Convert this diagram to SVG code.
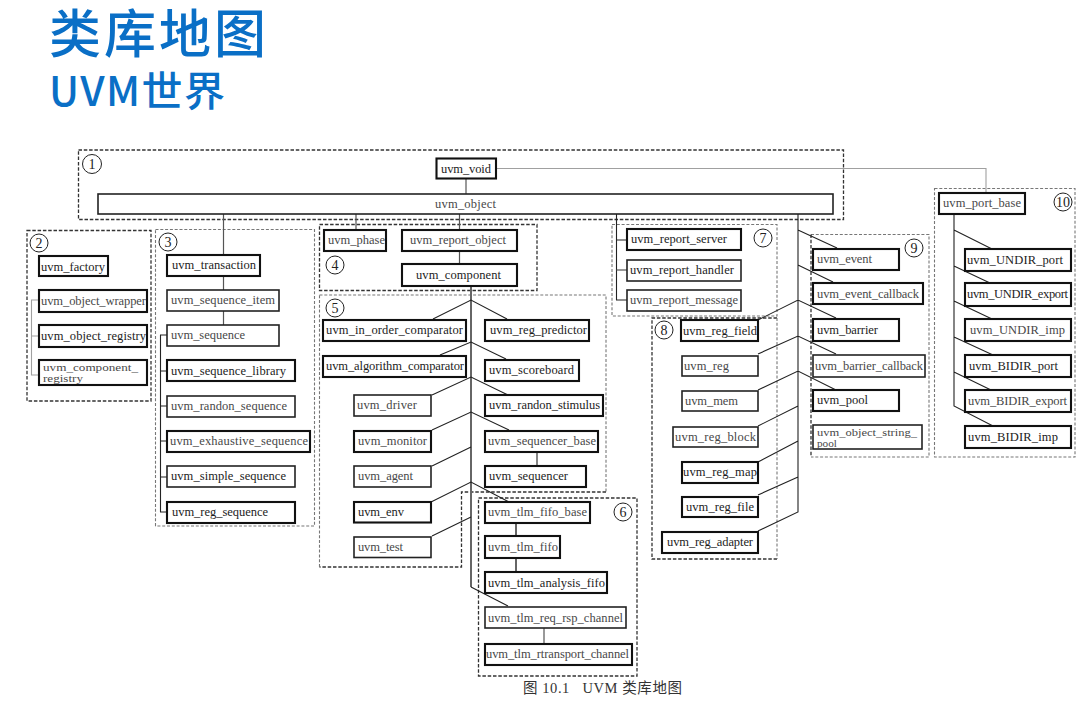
<svg xmlns="http://www.w3.org/2000/svg" width="1081" height="704" viewBox="0 0 1081 704">
<style>
.bg{fill:#fff}
.t1{font-family:"Noto Sans CJK SC","Noto Sans",sans-serif;font-weight:500;font-size:52px;fill:#0a6fc6}
.t2{font-family:"Noto Sans CJK SC","Noto Sans",sans-serif;font-weight:500;font-size:41px;fill:#0a6fc6}
.cap{font-family:"Liberation Serif","Noto Sans CJK SC",serif;font-size:14.5px;fill:#333}
.rd{fill:none;stroke:#333;stroke-width:1.3;stroke-dasharray:3.5 1.8}
.rg{fill:none;stroke:#777;stroke-width:1.1;stroke-dasharray:3 1.8}
.b{fill:#fff;stroke:#222;stroke-width:1.6}
.h{fill:#fff;stroke:#111;stroke-width:2.1}
text.n{font-family:"Liberation Serif",serif;font-size:12.5px;fill:#1c1c1c}
text.l{font-family:"Liberation Serif",serif;font-size:12.5px;fill:#484848}
text.s{font-size:10.5px}
.cn{font-family:"Liberation Serif",serif;font-size:14px;fill:#222;text-anchor:middle}
.cc{fill:#fff;stroke:#222;stroke-width:1}
.c{fill:none;stroke:#222;stroke-width:1.1}
.cg{fill:none;stroke:#555;stroke-width:1.2}
.cl{fill:none;stroke:#a0a0a0;stroke-width:1.1}
.ct{fill:none;stroke:#666;stroke-width:2}
</style>
<rect class="bg" width="1081" height="704"/>
<text class="t1" x="49" y="53" textLength="217">类库地图</text>
<text class="t2" x="49" y="106" textLength="176">UVM世界</text>
<text class="cap" x="523" y="693" textLength="159">图 10.1&#160;&#160;&#160;UVM 类库地图</text>

<g id="regions">
<rect class="rd" x="78.5" y="150" width="765" height="69.5"/>
<rect class="rd" x="27" y="230.500" width="124" height="170.500"/>
<rect class="rg" x="155.500" y="229.500" width="159" height="296.500"/>
<rect class="rd" x="319.500" y="224.500" width="217.500" height="66"/>
<path class="rg" d="M319.500 295H606V492"/>
<path class="rd" d="M606 492H461.500V567H319.500"/>
<path class="rg" d="M319.500 567V295"/>
<rect class="rd" x="478.500" y="498" width="158.500" height="178"/>
<rect class="rg" x="612" y="224.500" width="165" height="91.500"/>
<path class="rd" d="M777 318H652V559H777"/>
<path class="rg" d="M777 318V559"/>
<path class="rg" d="M811 234.500H929V457H811"/>
<path class="rd" d="M811 234.500V457"/>
<rect class="rg" x="934.500" y="188.500" width="140.500" height="268.500"/>
</g>

<g id="connectors">
<path class="cl" d="M496 168.500H986V193"/>
<path class="cg" d="M466 179V194"/>
<path class="cg" d="M223.500 214V325"/>
<path class="cl" d="M39 300H31.500V375H39M31.500 336H39"/>
<path class="c" d="M167 335H160.500V512H167M160.500 371H167M160.500 406H167M160.500 441H167M160.500 477H167"/>
<path class="cg" d="M356 214V230M459.500 214V264"/>
<path class="ct" d="M471 286V587"/>
<path class="c" d="M433 319L471 300L507 319M440 355L471 342L506 359M432 395L471 377L508 395M432 430L471 412L509 430M432 466L471 447M431 502L471 482L509 502M432 536L471 517M471 587L508 606"/>
<path class="c" d="M537 452V466"/>
<path class="ct" d="M516 523V572"/>
<path class="cg" d="M544 628V644"/>
<path class="c" d="M616.500 214V300H627M616.500 240H627"/>
<path class="cg" d="M616.500 270H627"/>
<path class="c" d="M798 214V512L758 531M758 320L798 300L836 318M758 354L798 336L836 354M758 390L798 371L836 390M758 426L798 406M758 462L798 441M758 495L798 477M798 230L837 248M798 265L833 282"/>
<path class="c" d="M954 214V406L993 426M954 230L992 249M954 266L990 283M954 301L992 319M954 337L993 355M954 372L991 390"/>
</g>

<g id="region-labels">
<g id="label-1"><circle class="cc" cx="92" cy="164" r="9.500"/><text class="cn" x="92" y="169">1</text></g>
<g id="label-2"><circle class="cc" cx="39" cy="243" r="9"/><text class="cn" x="39" y="248">2</text></g>
<g id="label-3"><circle class="cc" cx="168" cy="242" r="9"/><text class="cn" x="168" y="247">3</text></g>
<g id="label-4"><circle class="cc" cx="335" cy="265" r="9"/><text class="cn" x="335" y="270">4</text></g>
<g id="label-5"><circle class="cc" cx="335" cy="308" r="9"/><text class="cn" x="335" y="313">5</text></g>
<g id="label-6"><circle class="cc" cx="623" cy="512" r="9"/><text class="cn" x="623" y="517">6</text></g>
<g id="label-7"><circle class="cc" cx="763" cy="238" r="9"/><text class="cn" x="763" y="243">7</text></g>
<g id="label-8"><circle class="cc" cx="664" cy="330" r="9"/><text class="cn" x="664" y="335">8</text></g>
<g id="label-9"><circle class="cc" cx="914" cy="248" r="9"/><text class="cn" x="914" y="253">9</text></g>
<g id="label-10"><circle class="cc" cx="1063" cy="202" r="9"/><text class="cn" x="1063" y="207">10</text></g>
</g>

<g id="uvm_void"><rect class="h" x="436.500" y="158.500" width="59.500" height="20"/><text class="n" x="441" y="173" textLength="50">uvm_void</text></g>
<g id="uvm_object"><rect class="b" x="98" y="194" width="735" height="20"/><text class="l" x="435" y="208" textLength="61">uvm_object</text></g>

<g id="uvm_factory"><rect class="h" x="39" y="256" width="69" height="20"/><text class="n" x="41" y="270.500" textLength="64">uvm_factory</text></g>
<g id="uvm_object_wrapper"><rect class="h" x="39" y="290" width="108" height="22"/><text class="l" x="41" y="304.500" textLength="105">uvm_object_wrapper</text></g>
<g id="uvm_object_registry"><rect class="h" x="39" y="325" width="108" height="22"/><text class="n" x="41" y="339.500" textLength="105">uvm_object_registry</text></g>
<g id="uvm_component_registry"><rect class="h" x="39" y="360" width="108" height="25"/><text class="l s" x="43" y="370.500" textLength="95" lengthAdjust="spacingAndGlyphs">uvm_component_</text><text class="l s" x="43" y="381.500" textLength="40" lengthAdjust="spacingAndGlyphs">registry</text></g>

<g id="uvm_transaction"><rect class="h" x="167" y="255" width="93" height="21"/><text class="n" x="172" y="269" textLength="84">uvm_transaction</text></g>
<g id="uvm_sequence_item"><rect class="b" x="167" y="290" width="112" height="21"/><text class="l" x="171" y="304" textLength="104">uvm_sequence_item</text></g>
<g id="uvm_sequence"><rect class="b" x="167" y="325" width="112" height="21"/><text class="l" x="171" y="339" textLength="74">uvm_sequence</text></g>
<g id="uvm_sequence_library"><rect class="h" x="167" y="360" width="128" height="21"/><text class="n" x="171" y="375" textLength="115">uvm_sequence_library</text></g>
<g id="uvm_randon_sequence"><rect class="b" x="167" y="396" width="128" height="21"/><text class="l" x="171" y="410" textLength="116">uvm_randon_sequence</text></g>
<g id="uvm_exhaustive_sequence"><rect class="h" x="167" y="431" width="143" height="21"/><text class="l" x="170" y="445" textLength="138">uvm_exhaustive_sequence</text></g>
<g id="uvm_simple_sequence"><rect class="b" x="167" y="466" width="128" height="21"/><text class="n" x="171" y="480" textLength="115">uvm_simple_sequence</text></g>
<g id="uvm_reg_sequence"><rect class="h" x="167" y="502" width="128" height="21"/><text class="n" x="172" y="516" textLength="96">uvm_reg_sequence</text></g>

<g id="uvm_phase"><rect class="h" x="324" y="230" width="62" height="21"/><text class="l" x="328" y="244" textLength="57">uvm_phase</text></g>
<g id="uvm_report_object"><rect class="h" x="402" y="230" width="115" height="21"/><text class="l" x="410" y="244" textLength="96">uvm_report_object</text></g>
<g id="uvm_component"><rect class="h" x="402" y="264" width="115" height="22"/><text class="n" x="416" y="279" textLength="85">uvm_component</text></g>

<g id="uvm_in_order_comparator"><rect class="h" x="323" y="320" width="143" height="21"/><text class="n" x="326" y="334" textLength="137">uvm_in_order_comparator</text></g>
<g id="uvm_reg_predictor"><rect class="h" x="485" y="320" width="104" height="21"/><text class="n" x="490" y="334" textLength="97">uvm_reg_predictor</text></g>
<g id="uvm_algorithm_comparator"><rect class="h" x="323" y="356" width="143" height="21"/><text class="n" x="326" y="370" textLength="138">uvm_algorithm_comparator</text></g>
<g id="uvm_scoreboard"><rect class="h" x="485" y="360" width="94" height="21"/><text class="n" x="489" y="374" textLength="85">uvm_scoreboard</text></g>
<g id="uvm_driver"><rect class="b" x="354" y="395" width="77" height="21"/><text class="l" x="357" y="409" textLength="60">uvm_driver</text></g>
<g id="uvm_randon_stimulus"><rect class="h" x="485" y="395" width="118" height="21"/><text class="n" x="489" y="409" textLength="111">uvm_randon_stimulus</text></g>
<g id="uvm_monitor"><rect class="h" x="354" y="431" width="77" height="21"/><text class="l" x="358" y="445" textLength="69">uvm_monitor</text></g>
<g id="uvm_sequencer_base"><rect class="h" x="485" y="431" width="113" height="21"/><text class="l" x="488" y="445" textLength="108">uvm_sequencer_base</text></g>
<g id="uvm_agent"><rect class="b" x="354" y="466" width="77" height="21"/><text class="l" x="358" y="480" textLength="55">uvm_agent</text></g>
<g id="uvm_sequencer"><rect class="h" x="485" y="466" width="101" height="21"/><text class="n" x="489" y="480" textLength="79">uvm_sequencer</text></g>
<g id="uvm_env"><rect class="h" x="354" y="502" width="77" height="20.500"/><text class="n" x="358" y="516" textLength="46">uvm_env</text></g>
<g id="uvm_test"><rect class="b" x="354" y="537" width="77" height="20.500"/><text class="l" x="358" y="551" textLength="45">uvm_test</text></g>

<g id="uvm_tlm_fifo_base"><rect class="h" x="485" y="502" width="105" height="21"/><text class="l" x="488" y="516" textLength="99">uvm_tlm_fifo_base</text></g>
<g id="uvm_tlm_fifo"><rect class="h" x="485" y="536" width="75" height="22"/><text class="l" x="488" y="551" textLength="70">uvm_tlm_fifo</text></g>
<g id="uvm_tlm_analysis_fifo"><rect class="h" x="485" y="572" width="122" height="21"/><text class="n" x="488" y="587" textLength="117">uvm_tlm_analysis_fifo</text></g>
<g id="uvm_tlm_req_rsp_channel"><rect class="b" x="485" y="607" width="141" height="21"/><text class="l" x="488" y="622" textLength="135">uvm_tlm_req_rsp_channel</text></g>
<g id="uvm_tlm_rtransport_channel"><rect class="h" x="485" y="644" width="147" height="21"/><text class="l" x="486" y="658" textLength="143">uvm_tlm_rtransport_channel</text></g>

<g id="uvm_report_server"><rect class="h" x="627" y="229" width="114" height="21"/><text class="n" x="631" y="243" textLength="96">uvm_report_server</text></g>
<g id="uvm_report_handler"><rect class="b" x="627" y="260" width="114" height="21"/><text class="n" x="630" y="274" textLength="104">uvm_report_handler</text></g>
<g id="uvm_report_message"><rect class="b" x="627" y="290" width="114" height="21"/><text class="l" x="630" y="304" textLength="108">uvm_report_message</text></g>

<g id="uvm_reg_field"><rect class="h" x="681" y="320" width="77" height="21"/><text class="n" x="683" y="334.500" textLength="74">uvm_reg_field</text></g>
<g id="uvm_reg"><rect class="b" x="682" y="356" width="76" height="20"/><text class="l" x="684" y="370" textLength="45">uvm_reg</text></g>
<g id="uvm_mem"><rect class="b" x="682" y="391" width="76" height="20"/><text class="l" x="685" y="405" textLength="53">uvm_mem</text></g>
<g id="uvm_reg_block"><rect class="b" x="673" y="427" width="85" height="20"/><text class="l" x="675" y="441" textLength="81">uvm_reg_block</text></g>
<g id="uvm_reg_map"><rect class="h" x="682" y="462" width="76" height="21"/><text class="n" x="683" y="476" textLength="74">uvm_reg_map</text></g>
<g id="uvm_reg_file"><rect class="h" x="682" y="497" width="76" height="20"/><text class="n" x="686" y="511" textLength="68">uvm_reg_file</text></g>
<g id="uvm_reg_adapter"><rect class="h" x="662" y="532" width="96" height="21"/><text class="n" x="667" y="546" textLength="86">uvm_reg_adapter</text></g>

<g id="uvm_event"><rect class="h" x="813" y="249" width="86" height="21"/><text class="l" x="817" y="263" textLength="55">uvm_event</text></g>
<g id="uvm_event_callback"><rect class="h" x="813" y="283" width="110" height="21"/><text class="l" x="817" y="298" textLength="102">uvm_event_callback</text></g>
<g id="uvm_barrier"><rect class="h" x="813" y="319" width="86" height="22"/><text class="n" x="817" y="334" textLength="61">uvm_barrier</text></g>
<g id="uvm_barrier_callback"><rect class="b" x="813" y="355" width="112" height="22"/><text class="l" x="815" y="370" textLength="108">uvm_barrier_callback</text></g>
<g id="uvm_pool"><rect class="h" x="813" y="390" width="86" height="21"/><text class="n" x="817" y="404" textLength="51">uvm_pool</text></g>
<g id="uvm_object_string_pool"><rect class="b" x="813" y="425" width="109" height="24"/><text class="l s" x="817" y="435.500" textLength="100" lengthAdjust="spacingAndGlyphs">uvm_object_string_</text><text class="l s" x="817" y="446.500" textLength="20" lengthAdjust="spacingAndGlyphs">pool</text></g>

<g id="uvm_port_base"><rect class="h" x="939" y="193" width="86" height="21"/><text class="l" x="943" y="207" textLength="78">uvm_port_base</text></g>
<g id="uvm_UNDIR_port"><rect class="h" x="965" y="249" width="106" height="22"/><text class="n" x="967" y="264" textLength="96">uvm_UNDIR_port</text></g>
<g id="uvm_UNDIR_export"><rect class="h" x="965" y="283" width="106" height="23"/><text class="n" x="967" y="298" textLength="101">uvm_UNDIR_export</text></g>
<g id="uvm_UNDIR_imp"><rect class="h" x="965" y="319" width="106" height="22"/><text class="l" x="970" y="334" textLength="95">uvm_UNDIR_imp</text></g>
<g id="uvm_BIDIR_port"><rect class="h" x="965" y="355" width="106" height="22"/><text class="n" x="969" y="370" textLength="89">uvm_BIDIR_port</text></g>
<g id="uvm_BIDIR_export"><rect class="h" x="965" y="390" width="106" height="22"/><text class="l" x="968" y="405" textLength="99">uvm_BIDIR_export</text></g>
<g id="uvm_BIDIR_imp"><rect class="h" x="965" y="426" width="106" height="22"/><text class="n" x="968" y="441" textLength="90">uvm_BIDIR_imp</text></g>
</svg>
